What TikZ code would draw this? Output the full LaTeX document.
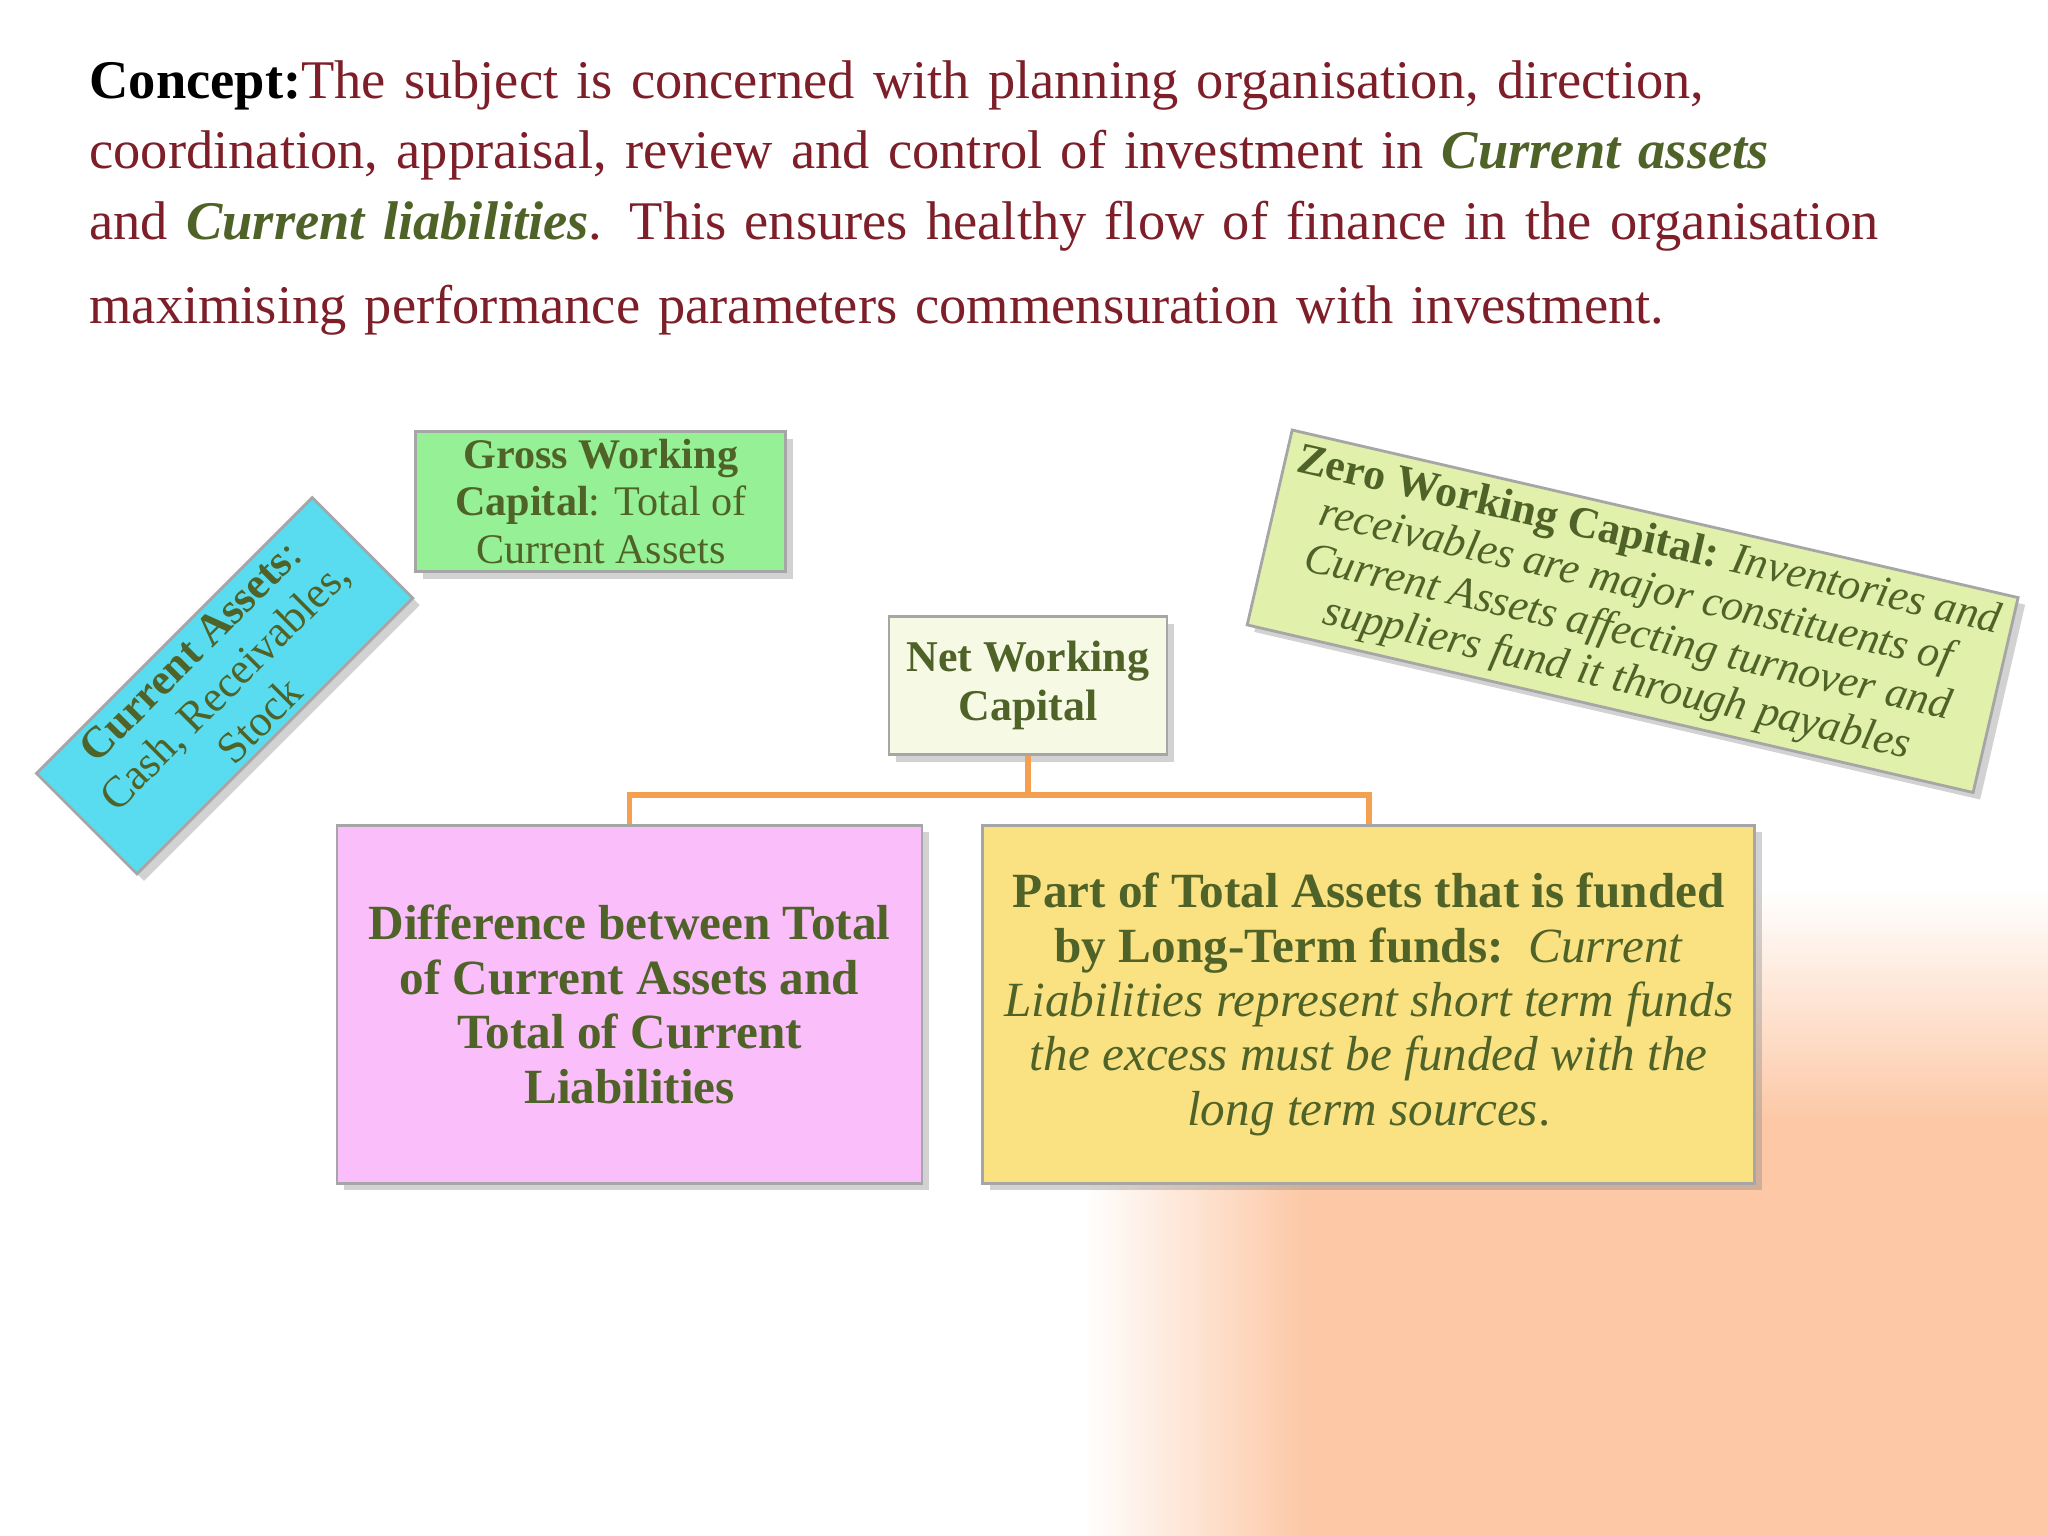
\documentclass[tikz,border=0pt]{standalone}
\usepackage{fontspec}
\setmainfont{Liberation Serif}
\usetikzlibrary{shadows}
\definecolor{txtred}{RGB}{125,30,40}
\definecolor{olive}{RGB}{79,98,40}
\definecolor{peach}{RGB}{252,200,165}
\definecolor{grossgreen}{RGB}{150,240,150}
\definecolor{netwhite}{RGB}{246,250,228}
\definecolor{diffpink}{RGB}{250,190,250}
\definecolor{partyellow}{RGB}{250,226,130}
\definecolor{cashcyan}{RGB}{90,220,240}
\definecolor{zerolime}{RGB}{225,240,170}
\definecolor{linkorange}{RGB}{245,160,80}
\newcommand\fullline[1]{\makebox[18cm][s]{#1}}
\begin{document}
\begin{tikzpicture}[x=0.01306cm,y=-0.01306cm,
  box/.style={draw=black!35,line width=0.8pt,align=center,text=olive,inner sep=2pt,
    drop shadow={opacity=0.35,shadow xshift=2pt,shadow yshift=-2pt}},
  link/.style={draw=linkorange,line width=1.6pt}]
 \useasboundingbox (0,0) rectangle (1568,1176);
 % background
 \fill[white] (0,0) rectangle (1568,1176);
 \shade[top color=white,bottom color=peach] (1000,680) rectangle (1568,860);
 \fill[peach] (1000,860) rectangle (1568,1176);
 \shade[left color=white,right color=peach] (830,860) rectangle (1000,1176);
 % concept text
 \node[anchor=north west,text width=18cm,align=left,text=txtred,inner sep=0pt,
   font=\fontsize{15.5pt}{20pt}\selectfont] (concept) at (68,46)
   {\fullline{\textcolor{black}{\textbf{Concept:}}The subject is concerned with planning organisation, direction,}\\
    \fullline{coordination, appraisal, review and control of investment in \textcolor{olive}{\textbf{\textit{Current assets}}}}\\
    \fullline{and \textcolor{olive}{\textbf{\textit{Current liabilities}}}. This ensures healthy flow of finance in the organisation}\\[4pt]
    \fullline{maximising performance parameters commensuration with investment.}};
 % boxes
 \node[box,fill=grossgreen,minimum width=3.7cm,minimum height=1.4cm,
   font=\fontsize{12pt}{13.5pt}\selectfont] (gross) at (460,384)
   {\textbf{Gross Working}\\\textbf{Capital}: Total of\\Current Assets};
 \node[box,fill=netwhite,minimum width=2.78cm,minimum height=1.38cm,
   font=\fontsize{12.5pt}{14pt}\selectfont\bfseries] (net) at (787,525)
   {Net Working\\Capital};
 \node[box,fill=diffpink,minimum width=5.85cm,minimum height=3.58cm,
   font=\fontsize{14pt}{15.5pt}\selectfont\bfseries] (diff) at (482,769)
   {Difference between Total\\of Current Assets and\\Total of Current\\Liabilities};
 \node[box,fill=partyellow,minimum width=7.72cm,minimum height=3.58cm,
   font=\fontsize{14pt}{15.5pt}\selectfont] (part) at (1048,769)
   {\textbf{Part of Total Assets that is funded}\\\textbf{by Long-Term funds:}\ \ \textit{Current}\\\textit{Liabilities represent short term funds}\\\textit{the excess must be funded with the}\\\textit{long term sources}.};
 \node[box,fill=cashcyan,rotate=45,minimum width=3.9cm,minimum height=1.37cm,
   font=\fontsize{12.5pt}{14pt}\selectfont] (cash) at (172,525)
   {\textbf{Current Assets}:\\Cash, Receivables,\\Stock};
 \node[box,fill=zerolime,rotate=-13,minimum width=7.45cm,minimum height=2cm,
   font=\fontsize{12.5pt}{13.5pt}\selectfont] (zero) at (1250,468)
   {\textbf{Zero Working Capital:} \textit{Inventories and}\\\textit{receivables are major constituents of}\\\textit{Current Assets affecting turnover and}\\\textit{suppliers fund it through payables}};
 % connectors
 \draw[link] (net.south) -- ++(0,30) -| (diff.north);
 \draw[link] (net.south) ++(0,30) -| (part.north);
\end{tikzpicture}
\end{document}
